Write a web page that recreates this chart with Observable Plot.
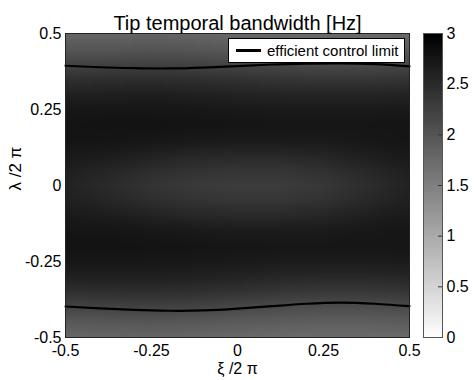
<!DOCTYPE html>
<html><head><meta charset="utf-8">
<script src="https://cdn.jsdelivr.net/npm/d3@7"></script>
<script src="https://cdn.jsdelivr.net/npm/@observablehq/plot@0.6"></script>
<style>
body{margin:0;background:#fff;}
#wrap{position:relative;width:474px;height:380px;font-family:"Liberation Sans",Arial,sans-serif;}
#wrap svg{position:absolute;top:0;}
#legend{position:absolute;left:228px;top:38px;width:177px;height:25px;background:#fff;border:1px solid #000;box-sizing:border-box;font-size:15px;z-index:2;}
#legend .sw{position:absolute;left:7px;top:10px;width:25px;height:0;border-top:3px solid #000;}
#legend .lb{position:absolute;left:38px;top:3px;white-space:nowrap;}
</style></head><body><div id="wrap"><div id="legend"><div class="sw"></div><div class="lb">efficient control limit</div></div></div>
<script>
const xiValues = [-0.5, -0.375, -0.25, -0.125, 0, 0.125, 0.25, 0.375, 0.5];
const lambdaValues = [0.5, 0.45, 0.4, 0.35, 0.3, 0.25, 0.2, 0.15, 0.1, 0.05, 0, -0.05, -0.1, -0.15, -0.2, -0.25, -0.3, -0.35, -0.4, -0.45, -0.5];
const bandwidth = [
  [1.80,1.80,1.82,1.80,1.78,1.76,1.74,1.74,1.76],
  [1.98,1.98,2.00,1.98,1.95,1.93,1.91,1.91,1.94],
  [2.20,2.22,2.23,2.21,2.17,2.14,2.12,2.12,2.16],
  [2.43,2.45,2.46,2.44,2.41,2.38,2.36,2.36,2.39],
  [2.62,2.63,2.64,2.62,2.59,2.57,2.56,2.56,2.59],
  [2.73,2.74,2.74,2.73,2.71,2.69,2.69,2.69,2.71],
  [2.77,2.78,2.78,2.77,2.76,2.75,2.75,2.75,2.76],
  [2.76,2.76,2.74,2.71,2.69,2.69,2.70,2.73,2.75],
  [2.71,2.67,2.61,2.55,2.53,2.53,2.57,2.64,2.71],
  [2.64,2.56,2.47,2.41,2.38,2.38,2.43,2.53,2.64],
  [2.60,2.50,2.39,2.32,2.29,2.29,2.35,2.47,2.60],
  [2.63,2.55,2.46,2.40,2.37,2.37,2.42,2.52,2.63],
  [2.70,2.66,2.60,2.54,2.52,2.52,2.56,2.63,2.70],
  [2.75,2.75,2.73,2.70,2.68,2.68,2.69,2.72,2.74],
  [2.78,2.78,2.77,2.76,2.75,2.74,2.74,2.74,2.75],
  [2.74,2.74,2.73,2.72,2.70,2.68,2.67,2.67,2.69],
  [2.62,2.63,2.63,2.61,2.58,2.55,2.53,2.53,2.56],
  [2.43,2.45,2.46,2.44,2.40,2.36,2.33,2.33,2.37],
  [2.20,2.22,2.23,2.21,2.16,2.12,2.09,2.09,2.13],
  [1.96,1.97,1.98,1.96,1.93,1.91,1.89,1.89,1.92],
  [1.80,1.80,1.81,1.79,1.77,1.75,1.74,1.74,1.76]
];
const limitXi = [-0.5, -0.4, -0.3, -0.2, -0.1, 0, 0.1, 0.2, 0.3, 0.4, 0.5];
const limitTop = [0.394, 0.389, 0.386, 0.385, 0.388, 0.393, 0.398, 0.401, 0.402, 0.399, 0.392];
const limitBottom = [-0.398, -0.404, -0.409, -0.412, -0.411, -0.405, -0.397, -0.389, -0.385, -0.389, -0.397];
const axisTicks = [-0.5, -0.25, 0, 0.25, 0.5];
const colorTicks = [0, 0.5, 1, 1.5, 2, 2.5, 3];
const titleText = "Tip temporal bandwidth [Hz]";
const xLabel = "ξ /2 π";
const yLabel = "λ /2 π";

const grid = [];
lambdaValues.forEach((l, i) => xiValues.forEach((x, j) => grid.push({xi: x, lambda: l, v: bandwidth[i][j]})));
const topLine = limitXi.map((x, i) => ({xi: x, lambda: limitTop[i]}));
const bottomLine = limitXi.map((x, i) => ({xi: x, lambda: limitBottom[i]}));

const font = "Liberation Sans, Arial, sans-serif";
const color = {type: "linear", domain: [0, 3], range: ["#ffffff", "#000000"], interpolate: "rgb"};
const fmt = d => String(d);

const main = Plot.plot({
  width: 474, height: 380,
  marginLeft: 65, marginRight: 65, marginTop: 33, marginBottom: 43,
  style: {fontFamily: font, fontSize: "16px", background: "transparent", color: "#000"},
  x: {domain: [-0.5, 0.5], ticks: axisTicks, tickFormat: fmt, tickSize: 0, tickPadding: 7, label: null},
  y: {domain: [-0.5, 0.5], ticks: axisTicks, tickFormat: fmt, tickSize: 0, tickPadding: 4, label: null},
  color,
  marks: [
    Plot.raster(grid, {x: "xi", y: "lambda", fill: "v", interpolate: "barycentric", x1: -0.5, x2: 0.5, y1: -0.5, y2: 0.5}),
    Plot.line(topLine, {x: "xi", y: "lambda", stroke: "#000", strokeWidth: 2.2, curve: "natural"}),
    Plot.line(bottomLine, {x: "xi", y: "lambda", stroke: "#000", strokeWidth: 2.2, curve: "natural"}),
    Plot.frame({stroke: "#222"}),
    Plot.text([titleText], {frameAnchor: "top", dy: -18, fontSize: 20}),
    Plot.text([xLabel], {frameAnchor: "bottom", dy: 36, fontSize: 16}),
    Plot.text([yLabel], {frameAnchor: "left", dx: -50, dy: 5, rotate: -90, fontSize: 17})
  ]
});

const cbar = Plot.plot({
  width: 60, height: 380,
  marginLeft: 0, marginRight: 41, marginTop: 33, marginBottom: 43,
  style: {fontFamily: font, fontSize: "16px", background: "transparent", color: "#000"},
  x: {domain: [0, 1], axis: null},
  y: {domain: [0, 3], ticks: colorTicks, tickFormat: fmt, tickSize: 0, tickPadding: 4, axis: "right", label: null},
  color,
  marks: [
    Plot.raster({fill: (x, y) => y, x1: 0, x2: 1, y1: 0, y2: 3}),
    Plot.tickY(colorTicks, {y: d => d, insetLeft: 15, stroke: "#333"}),
    Plot.frame({stroke: "#555"})
  ]
});

const wrap = document.getElementById("wrap");
main.style.left = "0px";
cbar.style.left = "423px";
wrap.appendChild(main);
wrap.appendChild(cbar);
</script>
</body></html>
